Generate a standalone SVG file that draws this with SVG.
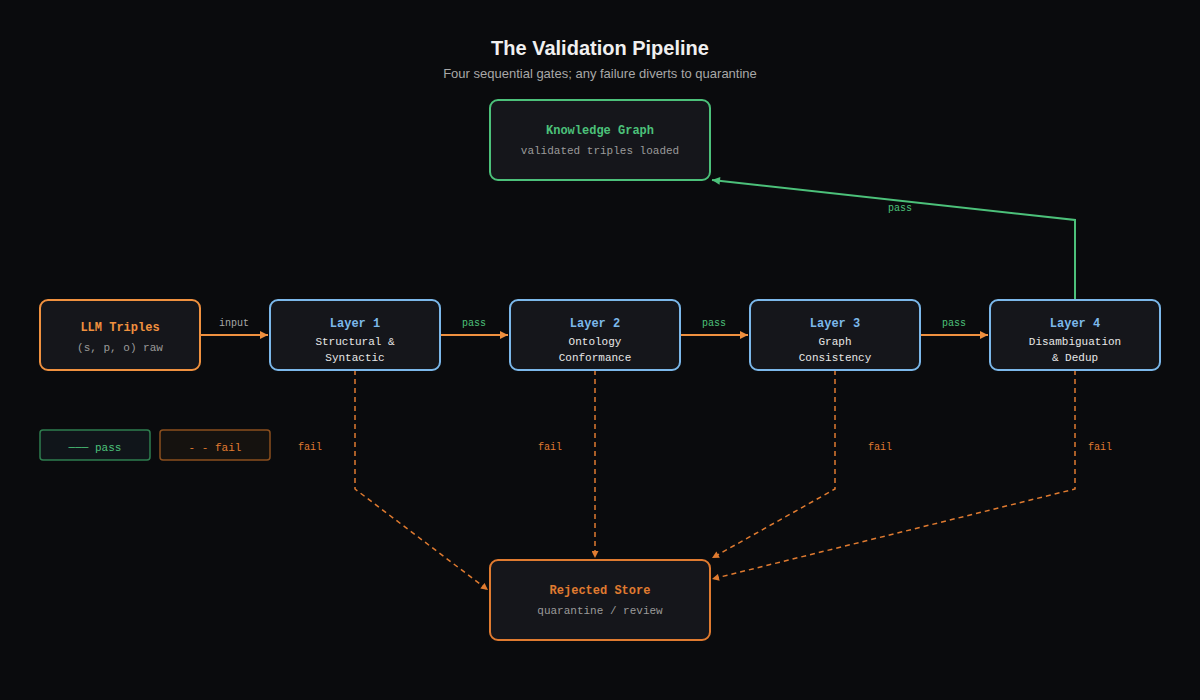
<svg xmlns="http://www.w3.org/2000/svg" width="1200" height="700" viewBox="0 0 1200 700">
<style>
.m{font-family:"Liberation Mono","DejaVu Sans Mono",monospace;text-anchor:middle}
.box{fill:#15161b;stroke-width:2}
.t{font-size:12px;font-weight:bold}
.s{font-size:11px;fill:#e8e8e8}
.g{font-size:11px;fill:#9a9a9a}
.lbl{font-size:10px}
.pass{stroke:#f0913f;stroke-width:2;fill:none}
.fail{stroke:#e07b30;stroke-width:1.5;stroke-dasharray:5,4;fill:none}
</style>
<defs>
<marker id="ao" viewBox="0 0 10 10" refX="10" refY="5" markerWidth="10" markerHeight="8" orient="auto" markerUnits="userSpaceOnUse"><path d="M0,0L10,5L0,10z" fill="#f0913f"/></marker>
<marker id="ag" viewBox="0 0 10 10" refX="10" refY="5" markerWidth="10" markerHeight="8" orient="auto" markerUnits="userSpaceOnUse"><path d="M0,0L10,5L0,10z" fill="#4cc17a"/></marker>
<marker id="af" viewBox="0 0 10 10" refX="10" refY="5" markerWidth="8" markerHeight="7" orient="auto" markerUnits="userSpaceOnUse"><path d="M0,0L10,5L0,10z" fill="#e07b30"/></marker>
</defs>
<rect width="1200" height="700" fill="#0a0b0d"/>
<text x="600" y="55" text-anchor="middle" font-family="Liberation Sans,Arial,sans-serif" font-size="20" font-weight="bold" fill="#f0f0f0">The Validation Pipeline</text>
<text x="600" y="78" text-anchor="middle" font-family="Liberation Sans,Arial,sans-serif" font-size="13" fill="#a8a8a8">Four sequential gates; any failure diverts to quarantine</text>
<g id="connectors">
<path class="pass" d="M200,335H268" marker-end="url(#ao)"/>
<path class="pass" d="M440,335H508" marker-end="url(#ao)"/>
<path class="pass" d="M680,335H748" marker-end="url(#ao)"/>
<path class="pass" d="M920,335H988" marker-end="url(#ao)"/>
<path d="M1075,300V220L712,180" stroke="#4cc17a" stroke-width="2" fill="none" marker-end="url(#ag)"/>
<path class="fail" d="M355,370V489L488,590" marker-end="url(#af)"/>
<path class="fail" d="M595,370V558" marker-end="url(#af)"/>
<path class="fail" d="M835,370V489L712,558" marker-end="url(#af)"/>
<path class="fail" d="M1075,370V489L712,579" marker-end="url(#af)"/>
<g class="m lbl">
<text x="234" y="326" fill="#a8a8a8">input</text>
<text x="474" y="326" fill="#4cc17a">pass</text>
<text x="714" y="326" fill="#4cc17a">pass</text>
<text x="954" y="326" fill="#4cc17a">pass</text>
<text x="900" y="211" fill="#4cc17a">pass</text>
<text x="310" y="450" fill="#e07b30">fail</text>
<text x="550" y="450" fill="#e07b30">fail</text>
<text x="880" y="450" fill="#e07b30">fail</text>
<text x="1100" y="450" fill="#e07b30">fail</text>
</g>
</g>
<g id="kg" class="m"><rect class="box" x="490" y="100" width="220" height="80" rx="8" stroke="#4cc17a"/><text class="t" x="600" y="134" fill="#4cc17a">Knowledge Graph</text><text class="g" x="600" y="154">validated triples loaded</text></g>
<g id="llm" class="m"><rect class="box" x="40" y="300" width="160" height="70" rx="8" stroke="#f0913f"/><text class="t" x="120" y="331" fill="#f0913f">LLM Triples</text><text class="g" x="120" y="351">(s, p, o) raw</text></g>
<g id="l1" class="m"><rect class="box" x="270" y="300" width="170" height="70" rx="8" stroke="#7cb8ea"/><text class="t" x="355" y="327" font-size="11" fill="#7cb8ea">Layer 1</text><text class="s" x="355" y="345">Structural &amp;</text><text class="s" x="355" y="361">Syntactic</text></g>
<g id="l2" class="m"><rect class="box" x="510" y="300" width="170" height="70" rx="8" stroke="#7cb8ea"/><text class="t" x="595" y="327" fill="#7cb8ea">Layer 2</text><text class="s" x="595" y="345">Ontology</text><text class="s" x="595" y="361">Conformance</text></g>
<g id="l3" class="m"><rect class="box" x="750" y="300" width="170" height="70" rx="8" stroke="#7cb8ea"/><text class="t" x="835" y="327" fill="#7cb8ea">Layer 3</text><text class="s" x="835" y="345">Graph</text><text class="s" x="835" y="361">Consistency</text></g>
<g id="l4" class="m"><rect class="box" x="990" y="300" width="170" height="70" rx="8" stroke="#7cb8ea"/><text class="t" x="1075" y="327" fill="#7cb8ea">Layer 4</text><text class="s" x="1075" y="345">Disambiguation</text><text class="s" x="1075" y="361">&amp; Dedup</text></g>
<g id="rej" class="m"><rect class="box" x="490" y="560" width="220" height="80" rx="8" stroke="#e07b30"/><text class="t" x="600" y="594" fill="#e07b30">Rejected Store</text><text class="g" x="600" y="614">quarantine / review</text></g>
<g id="legend" class="m">
<rect x="40" y="430" width="110" height="30" rx="3" fill="#10151a" stroke="#2e7d4f" stroke-width="1.5"/>
<text x="95" y="451" font-size="11" fill="#4cc17a">─── pass</text>
<rect x="160" y="430" width="110" height="30" rx="3" fill="#15120f" stroke="#8a4f1e" stroke-width="1.5"/>
<text x="215" y="451" font-size="11" fill="#e07b30">- - fail</text>
</g>
</svg>
